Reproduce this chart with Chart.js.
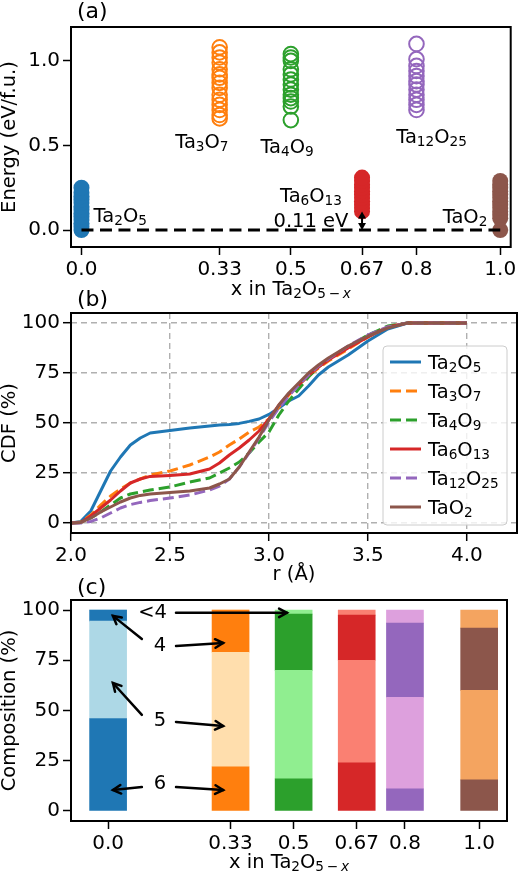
<!DOCTYPE html>
<html>
<head>
<meta charset="utf-8">
<script src="https://cdn.jsdelivr.net/npm/chart.js@4.4.1/dist/chart.umd.min.js"></script>
<style>
  html, body { margin: 0; padding: 0; background: #fff; }
  #wrap { position: relative; width: 520px; height: 874px; overflow: hidden; }
  canvas { position: absolute; left: 0; }
</style>
</head>
<body>
<div id="wrap">
  <canvas id="energyChart" width="520" height="300" style="top:0px"></canvas>
  <canvas id="cdfChart" width="520" height="310" style="top:280px"></canvas>
  <canvas id="compChart" width="520" height="304" style="top:570px"></canvas>
</div>
<script>
// ---- data ----
const phases = ['Ta_2O_5', 'Ta_3O_7', 'Ta_4O_9', 'Ta_6O_{13}', 'Ta_{12}O_{25}', 'TaO_2'];
const xPos = [0, 0.33, 0.5, 0.67, 0.8, 1.0];
const xTickLabels = ['0.0', '0.33', '0.5', '0.67', '0.8', '1.0'];
const colors = ['#1f77b4', '#ff7f0e', '#2ca02c', '#d62728', '#9467bd', '#8c564b'];
const lightColors = ['#add8e6', '#ffdead', '#90ee90', '#fa8072', '#dda0dd', '#f4a460'];
const filled = [true, false, false, true, false, true];

// (a) relative energies, eV/f.u.
const eTa2O5 = [0.0, 0.02, 0.04, 0.06, 0.08, 0.1, 0.12, 0.14, 0.16, 0.18, 0.2, 0.22, 0.25];
const eTa3O7 = [1.08, 1.05, 1.02, 0.99, 0.95, 0.92, 0.9, 0.87, 0.84, 0.8, 0.77, 0.74, 0.71, 0.68, 0.66];
const eTa4O9 = [1.04, 1.02, 1.0, 0.95, 0.92, 0.89, 0.86, 0.83, 0.8, 0.78, 0.76, 0.73, 0.65];
const eTa6O13 = [0.11, 0.13, 0.15, 0.17, 0.19, 0.21, 0.23, 0.25, 0.27, 0.29, 0.31];
const eTa12O25 = [1.1, 1.01, 0.97, 0.94, 0.91, 0.88, 0.86, 0.83, 0.8, 0.77, 0.74, 0.71];
const eTaO2 = [0.0, 0.07, 0.09, 0.11, 0.13, 0.15, 0.17, 0.19, 0.21, 0.23, 0.25, 0.27, 0.29];
const refLineX = [0, 1];
const energyTicks = [0, 0.5, 1.0];
const energyTickLabels = ['0.0', '0.5', '1.0'];

// (b) CDF (%) vs r (Angstrom)
const rGrid = [2.0, 2.05, 2.1, 2.15, 2.2, 2.25, 2.3, 2.35, 2.4, 2.5, 2.6, 2.7, 2.75, 2.8, 2.85, 2.9, 2.95,
               3.0, 3.05, 3.1, 3.15, 3.2, 3.25, 3.3, 3.4, 3.5, 3.6, 3.7, 3.8, 4.0];
const cdfTa2O5 = [0, 0.8, 6, 16, 26, 33, 39, 42.5, 45, 46.3, 47.5, 48.5, 49, 49.3, 49.8, 50.8, 52,
                  54.3, 57.5, 61, 63.5, 68.5, 74, 78, 84, 91, 97, 100, 100, 100];
const cdfTa3O7 = [0, 0.5, 4, 9, 13.5, 17, 20, 22, 24, 26, 29, 33, 35.5, 39, 42, 45.5, 48,
                  52, 58, 64, 69, 73.5, 77.5, 81, 87, 93, 98, 100, 100, 100];
const cdfTa4O9 = [0, 0.3, 2.5, 5.5, 9, 12.5, 14.5, 15.5, 16.5, 18, 20.5, 22.5, 25, 27.5, 30.5, 35, 40.5,
                  45.5, 54, 61, 67, 73, 78, 82, 88, 94, 98.5, 100, 100, 100];
const cdfTa6O13 = [0, 0.3, 3.5, 7.5, 11.5, 16, 20, 22, 23.3, 23.8, 24.5, 27, 30, 34, 37.5, 41.5, 46,
                   52, 59, 64.5, 69, 74, 78, 81.5, 87.5, 93, 98, 100, 100, 100];
const cdfTa12O25 = [0, 0, 0.8, 2.5, 5, 7.5, 9.2, 10.3, 11.2, 12.5, 14, 16.5, 18.5, 22, 28, 35, 42.5,
                    50.5, 57.5, 63.5, 69, 74, 78.5, 82, 88.5, 94, 98, 100, 100, 100];
const cdfTaO2 = [0, 0.3, 2.5, 5.5, 8, 10.5, 12.5, 13.8, 14.5, 15.2, 16, 17.5, 19.5, 22, 28, 35.5, 43,
                 51.5, 59, 65, 70, 75, 79, 82.5, 88.5, 93.5, 97.5, 100, 100, 100];
const rTicks = [2.0, 2.5, 3.0, 3.5, 4.0];
const rTickLabels = ['2.0', '2.5', '3.0', '3.5', '4.0'];
const pctTicks = [0, 25, 50, 75, 100];
const pctTickLabels = ['0', '25', '50', '75', '100'];

// (c) coordination composition (%), bottom to top: 6, 5, 4, <4
const coord6 = [46, 22, 16, 24, 11, 15.5];
const coord5 = [48.5, 57, 54, 51, 45.5, 44.5];
const coord4 = [5.5, 21, 28, 22.5, 37, 31];
const coordLt4 = [0, 0, 2, 2.5, 6.5, 9];

const FONT = 'DejaVu Sans';
const FS = 19.5;      // labels and annotations
const TICK_FS = 20;   // tick labels

// ---- text helpers (subscripts like Ta_2O_{5-x}) ----
function richRuns(str, size) {
    const parts = [];
    let buf = '';
    for (let i = 0; i < str.length; i++) {
        if (str[i] === '_') {
            if (buf) { parts.push({ t: buf, sub: false }); buf = ''; }
            let t;
            if (str[i + 1] === '{') { const j = str.indexOf('}', i); t = str.slice(i + 2, j); i = j; }
            else { t = str[i + 1]; i += 1; }
            parts.push({ t, sub: true });
        } else {
            buf += str[i];
        }
    }
    if (buf) parts.push({ t: buf, sub: false });

    const runs = [];
    parts.forEach(p => {
        const s = p.sub ? size * 0.7 : size;
        let cur = null;
        for (const ch of p.t) {
            const italic = p.sub && /[a-z]/.test(ch);
            if (!cur || cur.italic !== italic) {
                cur = { text: '', italic, font: `${italic ? 'italic ' : ''}${s}px "${FONT}"`, dy: p.sub ? size * 0.15 : 0 };
                runs.push(cur);
            }
            cur.text += ch;
        }
    });
    return runs;
}

function drawRich(ctx, str, x, y, size, align) {
    const runs = richRuns(str, size);
    let total = 0;
    runs.forEach(r => { ctx.font = r.font; r.w = ctx.measureText(r.text).width; total += r.w; });
    let cx = align === 'center' ? x - total / 2 : align === 'right' ? x - total : x;
    ctx.save();
    ctx.fillStyle = '#000';
    ctx.textAlign = 'left';
    ctx.textBaseline = 'alphabetic';
    runs.forEach(r => { ctx.font = r.font; ctx.fillText(r.text, cx, y + r.dy); cx += r.w; });
    ctx.restore();
}

function drawYTitle(ctx, text, x, yMid) {
    ctx.save();
    ctx.translate(x, yMid);
    ctx.rotate(-Math.PI / 2);
    ctx.font = `${FS}px "${FONT}"`;
    ctx.fillStyle = '#000';
    ctx.textAlign = 'center';
    ctx.textBaseline = 'alphabetic';
    ctx.fillText(text, 0, 0);
    ctx.restore();
}

function panelLabel(ctx, text, x, y) {
    ctx.save();
    ctx.font = `22px "${FONT}"`;
    ctx.fillStyle = '#000';
    ctx.textAlign = 'left';
    ctx.textBaseline = 'alphabetic';
    ctx.fillText(text, x, y);
    ctx.restore();
}

function arrowHead(ctx, x1, y1, x2, y2, len, spread) {
    const ang = Math.atan2(y2 - y1, x2 - x1);
    ctx.beginPath();
    ctx.moveTo(x2 - len * Math.cos(ang - spread), y2 - len * Math.sin(ang - spread));
    ctx.lineTo(x2, y2);
    ctx.lineTo(x2 - len * Math.cos(ang + spread), y2 - len * Math.sin(ang + spread));
    ctx.stroke();
}

// ---- shared axis setup ----
function makeAxis(min, max, ticks, labels, fit, extraGrid, extraBorder) {
    return {
        type: 'linear',
        min: min,
        max: max,
        offset: false,
        afterBuildTicks: s => { s.ticks = ticks.map(v => ({ value: v })); },
        afterFit: s => {
            if (s.isHorizontal()) s.height = fit; else s.width = fit;
            s.paddingLeft = s.paddingRight = s.paddingTop = s.paddingBottom = 0;
        },
        ticks: {
            autoSkip: false,
            maxRotation: 0,
            padding: 3,
            color: '#000',
            font: { family: FONT, size: TICK_FS },
            callback: (v, i) => labels[i]
        },
        grid: Object.assign({
            drawOnChartArea: false,
            tickLength: 8,
            tickWidth: 1.5,
            tickColor: '#000',
            offset: false
        }, extraGrid || {}),
        border: Object.assign({ display: false }, extraBorder || {})
    };
}

const framePlugin = {
    id: 'frame',
    afterDatasetsDraw(chart) {
        const { ctx, chartArea: a } = chart;
        ctx.save();
        ctx.strokeStyle = '#000';
        ctx.lineWidth = 2;
        ctx.strokeRect(a.left, a.top, a.right - a.left, a.bottom - a.top);
        ctx.restore();
    }
};

const baseOptions = {
    responsive: false,
    animation: false,
    events: [],
    plugins: { legend: { display: false }, tooltip: { enabled: false } }
};

// ---- (a) energies ----
const energies = [eTa2O5, eTa3O7, eTa4O9, eTa6O13, eTa12O25, eTaO2];
const energyLabels = [
    { t: 'Ta_2O_5', x: 0.029, y: 0.045, align: 'left' },
    { t: 'Ta_3O_7', x: 0.2875, y: 0.483, align: 'center' },
    { t: 'Ta_4O_9', x: 0.491, y: 0.457, align: 'center' },
    { t: 'Ta_{12}O_{25}', x: 0.836, y: 0.513, align: 'center' },
    { t: 'Ta_6O_{13}', x: 0.548, y: 0.168, align: 'center' },
    { t: '0.11 eV', x: 0.548, y: 0.02, align: 'center' },
    { t: 'TaO_2', x: 0.916, y: 0.044, align: 'center' }
];

new Chart(document.getElementById('energyChart'), {
    type: 'scatter',
    data: {
        datasets: [
            {
                data: refLineX.map(x => ({ x, y: 0 })),
                showLine: true,
                borderColor: '#000',
                borderWidth: 3,
                borderDash: [12, 6.5],
                pointRadius: 0,
                order: 0
            },
            ...energies.map((vals, i) => ({
                data: vals.map(v => ({ x: xPos[i], y: v })),
                showLine: false,
                pointRadius: filled[i] ? 8 : 7.3,
                pointBorderWidth: filled[i] ? 0 : 2,
                pointBackgroundColor: filled[i] ? colors[i] : 'rgba(0,0,0,0)',
                pointBorderColor: colors[i],
                order: 1
            }))
        ]
    },
    options: Object.assign({}, baseOptions, {
        layout: { padding: { top: 27, right: 3, left: 0, bottom: 0 } },
        scales: {
            x: makeAxis(-0.025, 1.025, xPos, xTickLabels, 53),
            y: makeAxis(-0.1, 1.2, energyTicks, energyTickLabels, 71)
        }
    }),
    plugins: [framePlugin, {
        id: 'energyNotes',
        afterDraw(chart) {
            const { ctx, chartArea: a, scales: { x, y } } = chart;
            energyLabels.forEach(l => drawRich(ctx, l.t, x.getPixelForValue(l.x), y.getPixelForValue(l.y), FS, l.align));
            // 0.11 eV gap arrow
            const ax = x.getPixelForValue(0.67), y0 = y.getPixelForValue(0), y1 = y.getPixelForValue(0.11);
            ctx.save();
            ctx.strokeStyle = '#000';
            ctx.fillStyle = '#000';
            ctx.lineWidth = 2;
            ctx.beginPath(); ctx.moveTo(ax, y0 - 4); ctx.lineTo(ax, y1 + 4); ctx.stroke();
            [[y1, 1], [y0, -1]].forEach(([yy, d]) => {
                ctx.beginPath();
                ctx.moveTo(ax, yy);
                ctx.lineTo(ax - 4, yy + d * 7);
                ctx.lineTo(ax + 4, yy + d * 7);
                ctx.closePath();
                ctx.fill();
            });
            ctx.restore();
            panelLabel(ctx, '(a)', 77, 18);
            drawYTitle(ctx, 'Energy (eV/f.u.)', 14.8, (a.top + a.bottom) / 2);
            drawRich(ctx, 'x in Ta_2O_{5\u2009\u2212\u2009x}', (a.left + a.right) / 2, 295, FS, 'center');
        }
    }]
});

// ---- (b) CDF ----
const cdfSeries = [cdfTa2O5, cdfTa3O7, cdfTa4O9, cdfTa6O13, cdfTa12O25, cdfTaO2];
const dashed = [false, true, true, false, true, false];

new Chart(document.getElementById('cdfChart'), {
    type: 'line',
    data: {
        datasets: cdfSeries.map((vals, i) => ({
            data: vals.map((v, k) => ({ x: rGrid[k], y: v })),
            borderColor: colors[i],
            borderWidth: 3,
            borderDash: dashed[i] ? [11, 5] : [],
            borderJoinStyle: 'round',
            pointRadius: 0,
            tension: 0,
            fill: false,
            order: 6 - i
        }))
    },
    options: Object.assign({}, baseOptions, {
        layout: { padding: { top: 33, right: 3, left: 0, bottom: 0 } },
        scales: {
            x: makeAxis(2.0, 4.253, rTicks, rTickLabels, 57,
                { drawOnChartArea: true, color: '#b0b0b0', lineWidth: 1.4 }, { dash: [6, 4] }),
            y: makeAxis(-5, 105, pctTicks, pctTickLabels, 71,
                { drawOnChartArea: true, color: '#b0b0b0', lineWidth: 1.4 }, { dash: [6, 4] })
        }
    }),
    plugins: [framePlugin, {
        id: 'cdfLegend',
        afterDraw(chart) {
            const { ctx, chartArea: a } = chart;
            const w = 124, h = 179;
            const x0 = a.right - 10 - w, y0 = a.bottom - 8 - h;
            ctx.save();
            ctx.beginPath();
            ctx.roundRect(x0, y0, w, h, 4);
            ctx.fillStyle = 'rgba(255,255,255,0.8)';
            ctx.fill();
            ctx.strokeStyle = '#cccccc';
            ctx.lineWidth = 1;
            ctx.stroke();
            chart.data.datasets.forEach((ds, i) => {
                const yy = y0 + 16 + i * 29;
                ctx.strokeStyle = ds.borderColor;
                ctx.lineWidth = 3;
                ctx.setLineDash(ds.borderDash);
                ctx.beginPath();
                ctx.moveTo(x0 + 7, yy);
                ctx.lineTo(x0 + 38, yy);
                ctx.stroke();
                ctx.setLineDash([]);
                drawRich(ctx, phases[i], x0 + 45, yy + 7.3, FS, 'left');
            });
            ctx.restore();
            panelLabel(ctx, '(b)', 77, 25.5);
            drawYTitle(ctx, 'CDF (%)', 14.8, (a.top + a.bottom) / 2);
            drawRich(ctx, 'r (\u00c5)', (a.left + a.right) / 2, 299.5, FS, 'center');
        }
    }]
});

// ---- (c) composition ----
const compSeries = [coord6, coord5, coord4, coordLt4];
const compNotes = [
    { t: '<4', x: 0.12, y: 98.6, arrows: [[0.183, 98.6, 0.482, 98.6]] },
    { t: '4', x: 0.14, y: 82.1, arrows: [[0.091, 85.6, 0.013, 97.1], [0.183, 82.1, 0.31, 83.6]] },
    { t: '5', x: 0.14, y: 44.9, arrows: [[0.091, 47.8, 0.013, 63.7], [0.183, 44.3, 0.31, 42.3]] },
    { t: '6', x: 0.14, y: 13.3, arrows: [[0.091, 11.9, 0.013, 10.4], [0.183, 11.9, 0.31, 10.4]] }
];

new Chart(document.getElementById('compChart'), {
    type: 'bar',
    data: {
        datasets: compSeries.map((vals, k) => ({
            data: vals.map((v, i) => ({ x: xPos[i], y: v })),
            backgroundColor: k % 2 === 0 ? colors : lightColors,
            borderWidth: 0,
            barThickness: 37
        }))
    },
    options: Object.assign({}, baseOptions, {
        layout: { padding: { top: 30, right: 13, left: 0, bottom: 0 } },
        scales: {
            x: Object.assign(makeAxis(-0.1, 1.075, xPos, xTickLabels, 53), { stacked: true }),
            y: Object.assign(makeAxis(-5, 105, pctTicks, pctTickLabels, 71), { stacked: true })
        }
    }),
    plugins: [framePlugin, {
        id: 'compNotes',
        afterDraw(chart) {
            const { ctx, chartArea: a, scales: { x, y } } = chart;
            ctx.save();
            ctx.strokeStyle = '#000';
            ctx.lineWidth = 2.5;
            ctx.lineCap = 'round';
            compNotes.forEach(n => {
                ctx.font = `${FS}px "${FONT}"`;
                ctx.fillStyle = '#000';
                ctx.textAlign = 'center';
                ctx.textBaseline = 'middle';
                ctx.fillText(n.t, x.getPixelForValue(n.x), y.getPixelForValue(n.y));
                n.arrows.forEach(([x1, y1, x2, y2]) => {
                    const p1 = [x.getPixelForValue(x1), y.getPixelForValue(y1)];
                    const p2 = [x.getPixelForValue(x2), y.getPixelForValue(y2)];
                    ctx.beginPath();
                    ctx.moveTo(p1[0], p1[1]);
                    ctx.lineTo(p2[0], p2[1]);
                    ctx.stroke();
                    arrowHead(ctx, p1[0], p1[1], p2[0], p2[1], 9, 0.5);
                });
            });
            ctx.restore();
            panelLabel(ctx, '(c)', 77, 23.8);
            drawYTitle(ctx, 'Composition (%)', 14.8, (a.top + a.bottom) / 2);
            drawRich(ctx, 'x in Ta_2O_{5\u2009\u2212\u2009x}', (a.left + a.right) / 2, 297.7, FS, 'center');
        }
    }]
});
</script>
</body>
</html>
